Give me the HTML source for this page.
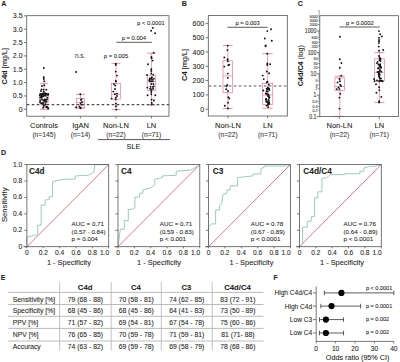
<!DOCTYPE html>
<html><head><meta charset="utf-8"><style>
html,body{margin:0;padding:0;background:#fff;width:400px;height:362px;overflow:hidden}
svg{display:block}
text{font-family:"Liberation Sans", sans-serif}
</style></head><body>
<svg width="400" height="362" viewBox="0 0 400 362">
<text x="1.20" y="6.30" font-size="7" text-anchor="start" font-weight="bold" fill="#222" stroke="#222" stroke-width="0.07" >A</text>
<text x="181.80" y="6.30" font-size="7" text-anchor="start" font-weight="bold" fill="#222" stroke="#222" stroke-width="0.07" >B</text>
<text x="297.80" y="6.30" font-size="7" text-anchor="start" font-weight="bold" fill="#222" stroke="#222" stroke-width="0.07" >C</text>
<text x="1.00" y="154.70" font-size="7" text-anchor="start" font-weight="bold" fill="#222" stroke="#222" stroke-width="0.07" >D</text>
<text x="0.80" y="280.30" font-size="7" text-anchor="start" font-weight="bold" fill="#222" stroke="#222" stroke-width="0.07" >E</text>
<text x="273.50" y="280.30" font-size="7" text-anchor="start" font-weight="bold" fill="#222" stroke="#222" stroke-width="0.07" >F</text>
<line x1="24.00" y1="109.30" x2="26.70" y2="109.30" stroke="#555" stroke-width="0.8" />
<text x="22.60" y="111.80" font-size="7" text-anchor="end" font-weight="normal" fill="#222" stroke="#222" stroke-width="0.07" >0</text>
<line x1="24.00" y1="95.95" x2="26.70" y2="95.95" stroke="#555" stroke-width="0.8" />
<text x="22.60" y="98.45" font-size="7" text-anchor="end" font-weight="normal" fill="#222" stroke="#222" stroke-width="0.07" >0.5</text>
<line x1="24.00" y1="82.60" x2="26.70" y2="82.60" stroke="#555" stroke-width="0.8" />
<text x="22.60" y="85.10" font-size="7" text-anchor="end" font-weight="normal" fill="#222" stroke="#222" stroke-width="0.07" >1.0</text>
<line x1="24.00" y1="69.25" x2="26.70" y2="69.25" stroke="#555" stroke-width="0.8" />
<text x="22.60" y="71.75" font-size="7" text-anchor="end" font-weight="normal" fill="#222" stroke="#222" stroke-width="0.07" >1.5</text>
<line x1="24.00" y1="55.90" x2="26.70" y2="55.90" stroke="#555" stroke-width="0.8" />
<text x="22.60" y="58.40" font-size="7" text-anchor="end" font-weight="normal" fill="#222" stroke="#222" stroke-width="0.07" >2.0</text>
<line x1="24.00" y1="42.55" x2="26.70" y2="42.55" stroke="#555" stroke-width="0.8" />
<text x="22.60" y="45.05" font-size="7" text-anchor="end" font-weight="normal" fill="#222" stroke="#222" stroke-width="0.07" >2.5</text>
<line x1="24.00" y1="29.20" x2="26.70" y2="29.20" stroke="#555" stroke-width="0.8" />
<text x="22.60" y="31.70" font-size="7" text-anchor="end" font-weight="normal" fill="#222" stroke="#222" stroke-width="0.07" >3.0</text>
<line x1="24.00" y1="15.85" x2="26.70" y2="15.85" stroke="#555" stroke-width="0.8" />
<text x="22.60" y="18.35" font-size="7" text-anchor="end" font-weight="normal" fill="#222" stroke="#222" stroke-width="0.07" >3.5</text>
<line x1="44.00" y1="116.20" x2="44.00" y2="118.40" stroke="#555" stroke-width="0.8" />
<line x1="80.40" y1="116.20" x2="80.40" y2="118.40" stroke="#555" stroke-width="0.8" />
<line x1="116.00" y1="116.20" x2="116.00" y2="118.40" stroke="#555" stroke-width="0.8" />
<line x1="151.50" y1="116.20" x2="151.50" y2="118.40" stroke="#555" stroke-width="0.8" />
<text x="44.00" y="128.20" font-size="7.5" text-anchor="middle" font-weight="normal" fill="#222" stroke="#222" stroke-width="0.07" >Controls</text>
<text x="44.00" y="136.60" font-size="6.7" text-anchor="middle" font-weight="normal" fill="#333" stroke="#333" stroke-width="0.07" >(n=145)</text>
<text x="80.60" y="128.20" font-size="7.5" text-anchor="middle" font-weight="normal" fill="#222" stroke="#222" stroke-width="0.07" >IgAN</text>
<text x="80.60" y="136.60" font-size="6.7" text-anchor="middle" font-weight="normal" fill="#333" stroke="#333" stroke-width="0.07" >(n=14)</text>
<text x="116.00" y="128.20" font-size="7.5" text-anchor="middle" font-weight="normal" fill="#222" stroke="#222" stroke-width="0.07" >Non-LN</text>
<text x="116.00" y="136.60" font-size="6.7" text-anchor="middle" font-weight="normal" fill="#333" stroke="#333" stroke-width="0.07" >(n=22)</text>
<text x="151.50" y="128.20" font-size="7.5" text-anchor="middle" font-weight="normal" fill="#222" stroke="#222" stroke-width="0.07" >LN</text>
<text x="151.50" y="136.60" font-size="6.7" text-anchor="middle" font-weight="normal" fill="#333" stroke="#333" stroke-width="0.07" >(n=71)</text>
<line x1="98.00" y1="139.60" x2="170.00" y2="139.60" stroke="#444" stroke-width="0.9" />
<text x="133.50" y="149.40" font-size="7.4" text-anchor="middle" font-weight="normal" fill="#222" stroke="#222" stroke-width="0.07" >SLE</text>
<text transform="translate(6.5,66.1) rotate(-90)" font-size="7.4" text-anchor="middle" fill="#222" stroke="#222" stroke-width="0.07"><tspan font-weight="bold">C4d</tspan> [mg/L]</text>
<text x="80.20" y="58.40" font-size="6.6" text-anchor="middle" font-weight="normal" fill="#444" stroke="#444" stroke-width="0.07" >n.s.</text>
<text x="116.00" y="58.30" font-size="5.8" text-anchor="middle" font-weight="normal" fill="#222" stroke="#222" stroke-width="0.07" >p = 0.005</text>
<line x1="116.30" y1="42.30" x2="151.80" y2="42.30" stroke="#333" stroke-width="0.8" />
<text x="133.90" y="40.30" font-size="5.8" text-anchor="middle" font-weight="normal" fill="#222" stroke="#222" stroke-width="0.07" >p = 0.004</text>
<text x="150.90" y="25.40" font-size="5.8" text-anchor="middle" font-weight="normal" fill="#222" stroke="#222" stroke-width="0.07" >p &lt; 0.0001</text>
<rect x="39.80" y="94.60" width="8.40" height="7.70" fill="none" stroke="#dc5a78" stroke-width="0.55"/>
<line x1="39.80" y1="99.20" x2="48.20" y2="99.20" stroke="#dc5a78" stroke-width="0.55" />
<line x1="44.00" y1="94.60" x2="44.00" y2="83.40" stroke="#dc5a78" stroke-width="0.55" />
<line x1="44.00" y1="102.30" x2="44.00" y2="109.40" stroke="#dc5a78" stroke-width="0.55" />
<line x1="40.00" y1="83.40" x2="48.00" y2="83.40" stroke="#dc5a78" stroke-width="0.65" />
<line x1="40.00" y1="109.40" x2="48.00" y2="109.40" stroke="#dc5a78" stroke-width="0.65" />
<rect x="76.70" y="98.20" width="7.60" height="9.70" fill="none" stroke="#dc5a78" stroke-width="0.55"/>
<line x1="76.70" y1="102.50" x2="84.30" y2="102.50" stroke="#dc5a78" stroke-width="0.55" />
<line x1="80.50" y1="98.20" x2="80.50" y2="94.30" stroke="#dc5a78" stroke-width="0.55" />
<line x1="80.50" y1="107.90" x2="80.50" y2="108.20" stroke="#dc5a78" stroke-width="0.55" />
<line x1="76.00" y1="94.30" x2="85.00" y2="94.30" stroke="#dc5a78" stroke-width="0.65" />
<line x1="76.00" y1="108.20" x2="85.00" y2="108.20" stroke="#dc5a78" stroke-width="0.65" />
<rect x="111.55" y="83.60" width="8.90" height="15.50" fill="none" stroke="#dc5a78" stroke-width="0.55"/>
<line x1="111.55" y1="94.30" x2="120.45" y2="94.30" stroke="#dc5a78" stroke-width="0.55" />
<line x1="116.00" y1="83.60" x2="116.00" y2="63.60" stroke="#dc5a78" stroke-width="0.55" />
<line x1="116.00" y1="99.10" x2="116.00" y2="109.60" stroke="#dc5a78" stroke-width="0.55" />
<line x1="111.60" y1="63.60" x2="120.40" y2="63.60" stroke="#dc5a78" stroke-width="0.65" />
<line x1="111.60" y1="109.60" x2="120.40" y2="109.60" stroke="#dc5a78" stroke-width="0.65" />
<rect x="147.20" y="75.10" width="8.60" height="15.20" fill="none" stroke="#dc5a78" stroke-width="0.55"/>
<line x1="147.20" y1="81.30" x2="155.80" y2="81.30" stroke="#dc5a78" stroke-width="0.55" />
<line x1="151.50" y1="75.10" x2="151.50" y2="53.20" stroke="#dc5a78" stroke-width="0.55" />
<line x1="151.50" y1="90.30" x2="151.50" y2="104.90" stroke="#dc5a78" stroke-width="0.55" />
<line x1="147.10" y1="53.20" x2="155.90" y2="53.20" stroke="#dc5a78" stroke-width="0.65" />
<line x1="147.10" y1="104.90" x2="155.90" y2="104.90" stroke="#dc5a78" stroke-width="0.65" />
<circle cx="43.80" cy="68.00" r="0.95" fill="#111"/>
<circle cx="43.80" cy="77.30" r="0.95" fill="#111"/>
<circle cx="43.80" cy="79.00" r="0.95" fill="#111"/>
<circle cx="44.30" cy="81.30" r="0.95" fill="#111"/>
<circle cx="42.00" cy="86.00" r="0.95" fill="#111"/>
<circle cx="44.30" cy="85.30" r="0.95" fill="#111"/>
<circle cx="41.00" cy="91.00" r="0.95" fill="#111"/>
<circle cx="43.60" cy="89.60" r="0.95" fill="#111"/>
<circle cx="46.30" cy="89.80" r="0.95" fill="#111"/>
<circle cx="44.30" cy="93.60" r="0.95" fill="#111"/>
<circle cx="47.90" cy="94.90" r="0.95" fill="#111"/>
<circle cx="41.00" cy="95.90" r="0.95" fill="#111"/>
<circle cx="44.51" cy="99.55" r="0.95" fill="#111"/>
<circle cx="43.70" cy="105.87" r="0.95" fill="#111"/>
<circle cx="44.75" cy="100.18" r="0.95" fill="#111"/>
<circle cx="44.10" cy="95.74" r="0.95" fill="#111"/>
<circle cx="46.52" cy="101.47" r="0.95" fill="#111"/>
<circle cx="42.31" cy="93.81" r="0.95" fill="#111"/>
<circle cx="46.66" cy="93.72" r="0.95" fill="#111"/>
<circle cx="40.06" cy="102.19" r="0.95" fill="#111"/>
<circle cx="48.00" cy="107.74" r="0.95" fill="#111"/>
<circle cx="44.99" cy="101.73" r="0.95" fill="#111"/>
<circle cx="39.83" cy="95.22" r="0.95" fill="#111"/>
<circle cx="40.21" cy="100.40" r="0.95" fill="#111"/>
<circle cx="41.78" cy="95.84" r="0.95" fill="#111"/>
<circle cx="43.69" cy="91.72" r="0.95" fill="#111"/>
<circle cx="46.94" cy="99.41" r="0.95" fill="#111"/>
<circle cx="45.21" cy="100.30" r="0.95" fill="#111"/>
<circle cx="45.40" cy="100.09" r="0.95" fill="#111"/>
<circle cx="42.09" cy="99.61" r="0.95" fill="#111"/>
<circle cx="48.26" cy="108.86" r="0.95" fill="#111"/>
<circle cx="45.79" cy="104.22" r="0.95" fill="#111"/>
<circle cx="41.68" cy="97.81" r="0.95" fill="#111"/>
<circle cx="40.30" cy="97.43" r="0.95" fill="#111"/>
<circle cx="43.14" cy="103.12" r="0.95" fill="#111"/>
<circle cx="43.02" cy="104.33" r="0.95" fill="#111"/>
<circle cx="46.99" cy="106.80" r="0.95" fill="#111"/>
<circle cx="41.50" cy="89.37" r="0.95" fill="#111"/>
<circle cx="43.74" cy="105.55" r="0.95" fill="#111"/>
<circle cx="43.12" cy="107.65" r="0.95" fill="#111"/>
<circle cx="45.11" cy="93.24" r="0.95" fill="#111"/>
<circle cx="42.02" cy="103.29" r="0.95" fill="#111"/>
<circle cx="42.56" cy="93.63" r="0.95" fill="#111"/>
<circle cx="46.22" cy="107.00" r="0.95" fill="#111"/>
<circle cx="41.82" cy="94.39" r="0.95" fill="#111"/>
<circle cx="40.22" cy="93.99" r="0.95" fill="#111"/>
<circle cx="41.23" cy="103.55" r="0.95" fill="#111"/>
<circle cx="43.55" cy="100.73" r="0.95" fill="#111"/>
<circle cx="45.99" cy="95.85" r="0.95" fill="#111"/>
<circle cx="45.24" cy="94.68" r="0.95" fill="#111"/>
<circle cx="43.32" cy="94.35" r="0.95" fill="#111"/>
<circle cx="42.02" cy="96.24" r="0.95" fill="#111"/>
<circle cx="46.61" cy="107.25" r="0.95" fill="#111"/>
<circle cx="47.31" cy="97.65" r="0.95" fill="#111"/>
<circle cx="43.09" cy="96.20" r="0.95" fill="#111"/>
<circle cx="45.22" cy="104.46" r="0.95" fill="#111"/>
<circle cx="48.21" cy="93.97" r="0.95" fill="#111"/>
<circle cx="41.92" cy="96.24" r="0.95" fill="#111"/>
<circle cx="76.20" cy="72.00" r="0.95" fill="#111"/>
<circle cx="80.30" cy="94.30" r="0.95" fill="#111"/>
<circle cx="81.50" cy="99.10" r="0.95" fill="#111"/>
<circle cx="81.00" cy="100.00" r="0.95" fill="#111"/>
<circle cx="80.60" cy="103.10" r="0.95" fill="#111"/>
<circle cx="81.20" cy="104.60" r="0.95" fill="#111"/>
<circle cx="76.10" cy="107.30" r="0.95" fill="#111"/>
<circle cx="80.60" cy="107.60" r="0.95" fill="#111"/>
<circle cx="82.50" cy="104.60" r="0.95" fill="#111"/>
<circle cx="79.50" cy="106.50" r="0.95" fill="#111"/>
<circle cx="82.00" cy="102.00" r="0.95" fill="#111"/>
<circle cx="80.50" cy="108.30" r="0.95" fill="#111"/>
<circle cx="115.80" cy="63.60" r="0.95" fill="#111"/>
<circle cx="115.80" cy="65.00" r="0.95" fill="#111"/>
<circle cx="115.80" cy="71.60" r="0.95" fill="#111"/>
<circle cx="116.90" cy="75.60" r="0.95" fill="#111"/>
<circle cx="115.90" cy="81.60" r="0.95" fill="#111"/>
<circle cx="115.80" cy="81.00" r="0.95" fill="#111"/>
<circle cx="114.00" cy="84.30" r="0.95" fill="#111"/>
<circle cx="115.30" cy="85.60" r="0.95" fill="#111"/>
<circle cx="113.30" cy="91.60" r="0.95" fill="#111"/>
<circle cx="114.90" cy="94.30" r="0.95" fill="#111"/>
<circle cx="116.90" cy="93.60" r="0.95" fill="#111"/>
<circle cx="115.90" cy="97.60" r="0.95" fill="#111"/>
<circle cx="111.60" cy="98.60" r="0.95" fill="#111"/>
<circle cx="115.60" cy="99.20" r="0.95" fill="#111"/>
<circle cx="115.90" cy="103.60" r="0.95" fill="#111"/>
<circle cx="116.00" cy="106.30" r="0.95" fill="#111"/>
<circle cx="116.30" cy="109.60" r="0.95" fill="#111"/>
<circle cx="115.00" cy="89.00" r="0.95" fill="#111"/>
<circle cx="117.00" cy="96.00" r="0.95" fill="#111"/>
<circle cx="152.80" cy="27.90" r="0.95" fill="#111"/>
<circle cx="151.10" cy="30.70" r="0.95" fill="#111"/>
<circle cx="155.10" cy="33.20" r="0.95" fill="#111"/>
<circle cx="153.60" cy="52.80" r="0.95" fill="#111"/>
<circle cx="151.40" cy="57.00" r="0.95" fill="#111"/>
<circle cx="151.60" cy="58.30" r="0.95" fill="#111"/>
<circle cx="152.60" cy="60.60" r="0.95" fill="#111"/>
<circle cx="148.00" cy="64.20" r="0.95" fill="#111"/>
<circle cx="151.30" cy="69.20" r="0.95" fill="#111"/>
<circle cx="151.30" cy="71.00" r="0.95" fill="#111"/>
<circle cx="151.30" cy="73.50" r="0.95" fill="#111"/>
<circle cx="147.00" cy="75.00" r="0.95" fill="#111"/>
<circle cx="153.30" cy="74.60" r="0.95" fill="#111"/>
<circle cx="151.30" cy="78.00" r="0.95" fill="#111"/>
<circle cx="150.00" cy="81.60" r="0.95" fill="#111"/>
<circle cx="152.90" cy="81.30" r="0.95" fill="#111"/>
<circle cx="151.30" cy="84.00" r="0.95" fill="#111"/>
<circle cx="147.30" cy="87.60" r="0.95" fill="#111"/>
<circle cx="152.90" cy="86.90" r="0.95" fill="#111"/>
<circle cx="150.00" cy="88.60" r="0.95" fill="#111"/>
<circle cx="151.30" cy="89.90" r="0.95" fill="#111"/>
<circle cx="151.30" cy="92.00" r="0.95" fill="#111"/>
<circle cx="151.30" cy="94.30" r="0.95" fill="#111"/>
<circle cx="147.60" cy="95.30" r="0.95" fill="#111"/>
<circle cx="155.30" cy="95.30" r="0.95" fill="#111"/>
<circle cx="151.60" cy="99.60" r="0.95" fill="#111"/>
<circle cx="153.90" cy="100.50" r="0.95" fill="#111"/>
<circle cx="151.80" cy="103.00" r="0.95" fill="#111"/>
<circle cx="151.50" cy="104.60" r="0.95" fill="#111"/>
<circle cx="150.61" cy="86.82" r="0.95" fill="#111"/>
<circle cx="149.28" cy="80.15" r="0.95" fill="#111"/>
<circle cx="151.93" cy="77.26" r="0.95" fill="#111"/>
<circle cx="152.03" cy="79.40" r="0.95" fill="#111"/>
<circle cx="151.26" cy="81.20" r="0.95" fill="#111"/>
<circle cx="151.42" cy="89.43" r="0.95" fill="#111"/>
<circle cx="153.41" cy="84.04" r="0.95" fill="#111"/>
<circle cx="149.70" cy="78.56" r="0.95" fill="#111"/>
<circle cx="153.15" cy="88.72" r="0.95" fill="#111"/>
<circle cx="149.89" cy="79.49" r="0.95" fill="#111"/>
<circle cx="153.79" cy="86.35" r="0.95" fill="#111"/>
<circle cx="153.84" cy="78.75" r="0.95" fill="#111"/>
<line x1="26.70" y1="104.60" x2="169.00" y2="104.60" stroke="#4a4a4a" stroke-width="1.1" stroke-dasharray="2.6,2.4"/>
<rect x="26.7" y="15.7" width="142.3" height="100.5" fill="none" stroke="#555" stroke-width="0.8"/>
<line x1="205.60" y1="109.20" x2="208.30" y2="109.20" stroke="#555" stroke-width="0.8" />
<text x="204.20" y="111.70" font-size="7" text-anchor="end" font-weight="normal" fill="#222" stroke="#222" stroke-width="0.07" >0</text>
<line x1="205.60" y1="94.90" x2="208.30" y2="94.90" stroke="#555" stroke-width="0.8" />
<text x="204.20" y="97.40" font-size="7" text-anchor="end" font-weight="normal" fill="#222" stroke="#222" stroke-width="0.07" >100</text>
<line x1="205.60" y1="80.60" x2="208.30" y2="80.60" stroke="#555" stroke-width="0.8" />
<text x="204.20" y="83.10" font-size="7" text-anchor="end" font-weight="normal" fill="#222" stroke="#222" stroke-width="0.07" >200</text>
<line x1="205.60" y1="66.30" x2="208.30" y2="66.30" stroke="#555" stroke-width="0.8" />
<text x="204.20" y="68.80" font-size="7" text-anchor="end" font-weight="normal" fill="#222" stroke="#222" stroke-width="0.07" >300</text>
<line x1="205.60" y1="52.00" x2="208.30" y2="52.00" stroke="#555" stroke-width="0.8" />
<text x="204.20" y="54.50" font-size="7" text-anchor="end" font-weight="normal" fill="#222" stroke="#222" stroke-width="0.07" >400</text>
<line x1="205.60" y1="37.70" x2="208.30" y2="37.70" stroke="#555" stroke-width="0.8" />
<text x="204.20" y="40.20" font-size="7" text-anchor="end" font-weight="normal" fill="#222" stroke="#222" stroke-width="0.07" >500</text>
<line x1="205.60" y1="23.40" x2="208.30" y2="23.40" stroke="#555" stroke-width="0.8" />
<text x="204.20" y="25.90" font-size="7" text-anchor="end" font-weight="normal" fill="#222" stroke="#222" stroke-width="0.07" >600</text>
<line x1="228.00" y1="116.00" x2="228.00" y2="118.20" stroke="#555" stroke-width="0.8" />
<line x1="267.60" y1="116.00" x2="267.60" y2="118.20" stroke="#555" stroke-width="0.8" />
<text x="228.00" y="128.20" font-size="7.5" text-anchor="middle" font-weight="normal" fill="#222" stroke="#222" stroke-width="0.07" >Non-LN</text>
<text x="228.00" y="136.60" font-size="6.7" text-anchor="middle" font-weight="normal" fill="#333" stroke="#333" stroke-width="0.07" >(n=22)</text>
<text x="267.80" y="128.20" font-size="7.5" text-anchor="middle" font-weight="normal" fill="#222" stroke="#222" stroke-width="0.07" >LN</text>
<text x="267.80" y="136.60" font-size="6.7" text-anchor="middle" font-weight="normal" fill="#333" stroke="#333" stroke-width="0.07" >(n=71)</text>
<text transform="translate(186.7,64.9) rotate(-90)" font-size="7.4" text-anchor="middle" fill="#222" stroke="#222" stroke-width="0.07"><tspan font-weight="bold">C4</tspan> [mg/L]</text>
<line x1="227.40" y1="27.30" x2="267.60" y2="27.30" stroke="#333" stroke-width="0.8" />
<text x="247.60" y="25.30" font-size="5.8" text-anchor="middle" font-weight="normal" fill="#222" stroke="#222" stroke-width="0.07" >p = 0.003</text>
<rect x="223.00" y="60.80" width="9.60" height="32.00" fill="none" stroke="#dc5a78" stroke-width="0.55"/>
<line x1="223.00" y1="75.90" x2="232.60" y2="75.90" stroke="#dc5a78" stroke-width="0.55" />
<line x1="227.80" y1="60.80" x2="227.80" y2="45.60" stroke="#dc5a78" stroke-width="0.55" />
<line x1="227.80" y1="92.80" x2="227.80" y2="108.50" stroke="#dc5a78" stroke-width="0.55" />
<line x1="223.00" y1="45.60" x2="232.60" y2="45.60" stroke="#dc5a78" stroke-width="0.65" />
<line x1="223.00" y1="108.50" x2="232.60" y2="108.50" stroke="#dc5a78" stroke-width="0.65" />
<rect x="262.40" y="83.30" width="10.40" height="21.10" fill="none" stroke="#dc5a78" stroke-width="0.55"/>
<line x1="262.40" y1="95.00" x2="272.80" y2="95.00" stroke="#dc5a78" stroke-width="0.55" />
<line x1="267.60" y1="83.30" x2="267.60" y2="53.70" stroke="#dc5a78" stroke-width="0.55" />
<line x1="267.60" y1="104.40" x2="267.60" y2="108.20" stroke="#dc5a78" stroke-width="0.55" />
<line x1="262.60" y1="53.70" x2="272.60" y2="53.70" stroke="#dc5a78" stroke-width="0.65" />
<line x1="262.60" y1="108.20" x2="272.60" y2="108.20" stroke="#dc5a78" stroke-width="0.65" />
<circle cx="227.60" cy="45.60" r="0.95" fill="#111"/>
<circle cx="227.40" cy="50.10" r="0.95" fill="#111"/>
<circle cx="224.30" cy="57.40" r="0.95" fill="#111"/>
<circle cx="227.60" cy="59.20" r="0.95" fill="#111"/>
<circle cx="227.80" cy="61.30" r="0.95" fill="#111"/>
<circle cx="228.30" cy="65.30" r="0.95" fill="#111"/>
<circle cx="229.30" cy="64.60" r="0.95" fill="#111"/>
<circle cx="224.30" cy="66.60" r="0.95" fill="#111"/>
<circle cx="227.80" cy="73.60" r="0.95" fill="#111"/>
<circle cx="227.80" cy="77.90" r="0.95" fill="#111"/>
<circle cx="227.30" cy="84.90" r="0.95" fill="#111"/>
<circle cx="226.40" cy="86.20" r="0.95" fill="#111"/>
<circle cx="226.20" cy="89.30" r="0.95" fill="#111"/>
<circle cx="228.00" cy="91.00" r="0.95" fill="#111"/>
<circle cx="228.40" cy="97.30" r="0.95" fill="#111"/>
<circle cx="229.30" cy="98.60" r="0.95" fill="#111"/>
<circle cx="228.00" cy="102.80" r="0.95" fill="#111"/>
<circle cx="224.80" cy="105.70" r="0.95" fill="#111"/>
<circle cx="228.00" cy="108.50" r="0.95" fill="#111"/>
<circle cx="271.00" cy="29.20" r="0.95" fill="#111"/>
<circle cx="267.30" cy="31.10" r="0.95" fill="#111"/>
<circle cx="264.80" cy="38.50" r="0.95" fill="#111"/>
<circle cx="271.80" cy="40.80" r="0.95" fill="#111"/>
<circle cx="265.60" cy="45.50" r="0.95" fill="#111"/>
<circle cx="265.60" cy="46.20" r="0.95" fill="#111"/>
<circle cx="267.30" cy="53.70" r="0.95" fill="#111"/>
<circle cx="267.30" cy="63.50" r="0.95" fill="#111"/>
<circle cx="267.30" cy="65.00" r="0.95" fill="#111"/>
<circle cx="270.10" cy="64.30" r="0.95" fill="#111"/>
<circle cx="266.80" cy="71.50" r="0.95" fill="#111"/>
<circle cx="269.10" cy="73.20" r="0.95" fill="#111"/>
<circle cx="262.70" cy="75.60" r="0.95" fill="#111"/>
<circle cx="263.70" cy="79.10" r="0.95" fill="#111"/>
<circle cx="267.50" cy="81.60" r="0.95" fill="#111"/>
<circle cx="266.80" cy="82.40" r="0.95" fill="#111"/>
<circle cx="268.70" cy="84.70" r="0.95" fill="#111"/>
<circle cx="267.90" cy="87.40" r="0.95" fill="#111"/>
<circle cx="267.10" cy="89.30" r="0.95" fill="#111"/>
<circle cx="263.30" cy="90.50" r="0.95" fill="#111"/>
<circle cx="266.80" cy="93.60" r="0.95" fill="#111"/>
<circle cx="268.30" cy="96.30" r="0.95" fill="#111"/>
<circle cx="267.99" cy="105.05" r="0.95" fill="#111"/>
<circle cx="266.09" cy="99.06" r="0.95" fill="#111"/>
<circle cx="269.36" cy="89.96" r="0.95" fill="#111"/>
<circle cx="268.38" cy="95.83" r="0.95" fill="#111"/>
<circle cx="268.83" cy="96.20" r="0.95" fill="#111"/>
<circle cx="266.82" cy="101.54" r="0.95" fill="#111"/>
<circle cx="268.44" cy="94.43" r="0.95" fill="#111"/>
<circle cx="266.57" cy="91.28" r="0.95" fill="#111"/>
<circle cx="268.94" cy="101.05" r="0.95" fill="#111"/>
<circle cx="266.76" cy="101.77" r="0.95" fill="#111"/>
<circle cx="266.48" cy="105.61" r="0.95" fill="#111"/>
<circle cx="266.72" cy="88.59" r="0.95" fill="#111"/>
<circle cx="265.93" cy="99.44" r="0.95" fill="#111"/>
<circle cx="267.10" cy="94.45" r="0.95" fill="#111"/>
<circle cx="266.20" cy="101.22" r="0.95" fill="#111"/>
<circle cx="269.09" cy="98.11" r="0.95" fill="#111"/>
<circle cx="268.20" cy="107.09" r="0.95" fill="#111"/>
<circle cx="267.92" cy="102.73" r="0.95" fill="#111"/>
<circle cx="265.83" cy="93.54" r="0.95" fill="#111"/>
<circle cx="269.16" cy="88.69" r="0.95" fill="#111"/>
<circle cx="269.36" cy="102.85" r="0.95" fill="#111"/>
<circle cx="268.12" cy="88.93" r="0.95" fill="#111"/>
<circle cx="268.48" cy="99.98" r="0.95" fill="#111"/>
<circle cx="269.50" cy="97.36" r="0.95" fill="#111"/>
<circle cx="267.78" cy="91.52" r="0.95" fill="#111"/>
<circle cx="269.12" cy="103.28" r="0.95" fill="#111"/>
<circle cx="268.37" cy="103.28" r="0.95" fill="#111"/>
<circle cx="269.18" cy="103.92" r="0.95" fill="#111"/>
<line x1="208.30" y1="86.00" x2="287.30" y2="86.00" stroke="#555" stroke-width="1.1" stroke-dasharray="2.6,2.4" stroke-dashoffset="-0.5"/>
<rect x="208.3" y="15.5" width="79.0" height="100.5" fill="none" stroke="#555" stroke-width="0.8"/>
<line x1="318.30" y1="103.72" x2="319.80" y2="103.72" stroke="#555" stroke-width="0.5" />
<line x1="318.30" y1="99.95" x2="319.80" y2="99.95" stroke="#555" stroke-width="0.5" />
<line x1="318.30" y1="98.51" x2="319.80" y2="98.51" stroke="#555" stroke-width="0.5" />
<line x1="318.30" y1="97.27" x2="319.80" y2="97.27" stroke="#555" stroke-width="0.5" />
<line x1="318.30" y1="96.18" x2="319.80" y2="96.18" stroke="#555" stroke-width="0.5" />
<line x1="318.30" y1="82.32" x2="319.80" y2="82.32" stroke="#555" stroke-width="0.5" />
<line x1="318.30" y1="78.55" x2="319.80" y2="78.55" stroke="#555" stroke-width="0.5" />
<line x1="318.30" y1="77.11" x2="319.80" y2="77.11" stroke="#555" stroke-width="0.5" />
<line x1="318.30" y1="75.87" x2="319.80" y2="75.87" stroke="#555" stroke-width="0.5" />
<line x1="318.30" y1="74.78" x2="319.80" y2="74.78" stroke="#555" stroke-width="0.5" />
<line x1="318.30" y1="60.92" x2="319.80" y2="60.92" stroke="#555" stroke-width="0.5" />
<line x1="318.30" y1="57.15" x2="319.80" y2="57.15" stroke="#555" stroke-width="0.5" />
<line x1="318.30" y1="55.71" x2="319.80" y2="55.71" stroke="#555" stroke-width="0.5" />
<line x1="318.30" y1="54.47" x2="319.80" y2="54.47" stroke="#555" stroke-width="0.5" />
<line x1="318.30" y1="53.38" x2="319.80" y2="53.38" stroke="#555" stroke-width="0.5" />
<line x1="318.30" y1="39.52" x2="319.80" y2="39.52" stroke="#555" stroke-width="0.5" />
<line x1="318.30" y1="35.75" x2="319.80" y2="35.75" stroke="#555" stroke-width="0.5" />
<line x1="318.30" y1="34.31" x2="319.80" y2="34.31" stroke="#555" stroke-width="0.5" />
<line x1="318.30" y1="33.07" x2="319.80" y2="33.07" stroke="#555" stroke-width="0.5" />
<line x1="318.30" y1="31.98" x2="319.80" y2="31.98" stroke="#555" stroke-width="0.5" />
<line x1="318.30" y1="18.12" x2="319.80" y2="18.12" stroke="#555" stroke-width="0.5" />
<line x1="318.30" y1="14.35" x2="319.80" y2="14.35" stroke="#555" stroke-width="0.5" />
<line x1="318.30" y1="12.91" x2="319.80" y2="12.91" stroke="#555" stroke-width="0.5" />
<line x1="318.30" y1="11.67" x2="319.80" y2="11.67" stroke="#555" stroke-width="0.5" />
<line x1="318.30" y1="10.58" x2="319.80" y2="10.58" stroke="#555" stroke-width="0.5" />
<line x1="316.80" y1="116.60" x2="319.80" y2="116.60" stroke="#555" stroke-width="0.8" />
<text x="316.30" y="118.80" font-size="6.3" text-anchor="end" font-weight="normal" fill="#222" stroke="#222" stroke-width="0.07" textLength="7.14" lengthAdjust="spacingAndGlyphs">0.1</text>
<line x1="317.80" y1="110.16" x2="319.80" y2="110.16" stroke="#555" stroke-width="0.6" />
<text x="317.40" y="111.76" font-size="4.4" text-anchor="end" font-weight="normal" fill="#222" stroke="#222" stroke-width="0.07" textLength="5.01" lengthAdjust="spacingAndGlyphs">0.2</text>
<line x1="317.80" y1="106.39" x2="319.80" y2="106.39" stroke="#555" stroke-width="0.6" />
<text x="317.40" y="107.99" font-size="4.4" text-anchor="end" font-weight="normal" fill="#222" stroke="#222" stroke-width="0.07" textLength="5.01" lengthAdjust="spacingAndGlyphs">0.3</text>
<line x1="317.80" y1="101.64" x2="319.80" y2="101.64" stroke="#555" stroke-width="0.6" />
<text x="317.40" y="103.24" font-size="4.4" text-anchor="end" font-weight="normal" fill="#222" stroke="#222" stroke-width="0.07" textLength="5.01" lengthAdjust="spacingAndGlyphs">0.5</text>
<line x1="316.80" y1="95.20" x2="319.80" y2="95.20" stroke="#555" stroke-width="0.8" />
<text x="316.30" y="97.40" font-size="6.3" text-anchor="end" font-weight="normal" fill="#222" stroke="#222" stroke-width="0.07" textLength="2.87" lengthAdjust="spacingAndGlyphs">1</text>
<line x1="317.80" y1="88.76" x2="319.80" y2="88.76" stroke="#555" stroke-width="0.6" />
<text x="317.40" y="90.36" font-size="4.4" text-anchor="end" font-weight="normal" fill="#222" stroke="#222" stroke-width="0.07" textLength="2.01" lengthAdjust="spacingAndGlyphs">2</text>
<line x1="317.80" y1="84.99" x2="319.80" y2="84.99" stroke="#555" stroke-width="0.6" />
<text x="317.40" y="86.59" font-size="4.4" text-anchor="end" font-weight="normal" fill="#222" stroke="#222" stroke-width="0.07" textLength="2.01" lengthAdjust="spacingAndGlyphs">3</text>
<line x1="317.80" y1="80.24" x2="319.80" y2="80.24" stroke="#555" stroke-width="0.6" />
<text x="317.40" y="81.84" font-size="4.4" text-anchor="end" font-weight="normal" fill="#222" stroke="#222" stroke-width="0.07" textLength="2.01" lengthAdjust="spacingAndGlyphs">5</text>
<line x1="316.80" y1="73.80" x2="319.80" y2="73.80" stroke="#555" stroke-width="0.8" />
<text x="316.30" y="76.00" font-size="6.3" text-anchor="end" font-weight="normal" fill="#222" stroke="#222" stroke-width="0.07" textLength="5.74" lengthAdjust="spacingAndGlyphs">10</text>
<line x1="317.80" y1="67.36" x2="319.80" y2="67.36" stroke="#555" stroke-width="0.6" />
<text x="317.40" y="68.96" font-size="4.4" text-anchor="end" font-weight="normal" fill="#222" stroke="#222" stroke-width="0.07" textLength="4.01" lengthAdjust="spacingAndGlyphs">20</text>
<line x1="317.80" y1="63.59" x2="319.80" y2="63.59" stroke="#555" stroke-width="0.6" />
<text x="317.40" y="65.19" font-size="4.4" text-anchor="end" font-weight="normal" fill="#222" stroke="#222" stroke-width="0.07" textLength="4.01" lengthAdjust="spacingAndGlyphs">30</text>
<line x1="317.80" y1="58.84" x2="319.80" y2="58.84" stroke="#555" stroke-width="0.6" />
<text x="317.40" y="60.44" font-size="4.4" text-anchor="end" font-weight="normal" fill="#222" stroke="#222" stroke-width="0.07" textLength="4.01" lengthAdjust="spacingAndGlyphs">50</text>
<line x1="316.80" y1="52.40" x2="319.80" y2="52.40" stroke="#555" stroke-width="0.8" />
<text x="316.30" y="54.60" font-size="6.3" text-anchor="end" font-weight="normal" fill="#222" stroke="#222" stroke-width="0.07" textLength="8.62" lengthAdjust="spacingAndGlyphs">100</text>
<line x1="317.80" y1="45.96" x2="319.80" y2="45.96" stroke="#555" stroke-width="0.6" />
<text x="317.40" y="47.56" font-size="4.4" text-anchor="end" font-weight="normal" fill="#222" stroke="#222" stroke-width="0.07" textLength="6.02" lengthAdjust="spacingAndGlyphs">200</text>
<line x1="317.80" y1="42.19" x2="319.80" y2="42.19" stroke="#555" stroke-width="0.6" />
<text x="317.40" y="43.79" font-size="4.4" text-anchor="end" font-weight="normal" fill="#222" stroke="#222" stroke-width="0.07" textLength="6.02" lengthAdjust="spacingAndGlyphs">300</text>
<line x1="317.80" y1="37.44" x2="319.80" y2="37.44" stroke="#555" stroke-width="0.6" />
<text x="317.40" y="39.04" font-size="4.4" text-anchor="end" font-weight="normal" fill="#222" stroke="#222" stroke-width="0.07" textLength="6.02" lengthAdjust="spacingAndGlyphs">500</text>
<line x1="316.80" y1="31.00" x2="319.80" y2="31.00" stroke="#555" stroke-width="0.8" />
<text x="316.30" y="33.20" font-size="6.3" text-anchor="end" font-weight="normal" fill="#222" stroke="#222" stroke-width="0.07" textLength="11.49" lengthAdjust="spacingAndGlyphs">1000</text>
<line x1="317.80" y1="24.56" x2="319.80" y2="24.56" stroke="#555" stroke-width="0.6" />
<text x="317.40" y="26.16" font-size="4.4" text-anchor="end" font-weight="normal" fill="#222" stroke="#222" stroke-width="0.07" textLength="8.02" lengthAdjust="spacingAndGlyphs">2000</text>
<line x1="317.80" y1="20.79" x2="319.80" y2="20.79" stroke="#555" stroke-width="0.6" />
<text x="317.40" y="22.39" font-size="4.4" text-anchor="end" font-weight="normal" fill="#222" stroke="#222" stroke-width="0.07" textLength="8.02" lengthAdjust="spacingAndGlyphs">3000</text>
<line x1="317.80" y1="16.04" x2="319.80" y2="16.04" stroke="#555" stroke-width="0.6" />
<text x="317.40" y="17.64" font-size="4.4" text-anchor="end" font-weight="normal" fill="#222" stroke="#222" stroke-width="0.07" textLength="8.02" lengthAdjust="spacingAndGlyphs">5000</text>
<line x1="339.40" y1="116.60" x2="339.40" y2="118.80" stroke="#555" stroke-width="0.8" />
<line x1="379.30" y1="116.60" x2="379.30" y2="118.80" stroke="#555" stroke-width="0.8" />
<text x="339.40" y="128.20" font-size="7.5" text-anchor="middle" font-weight="normal" fill="#222" stroke="#222" stroke-width="0.07" >Non-LN</text>
<text x="339.40" y="136.60" font-size="6.7" text-anchor="middle" font-weight="normal" fill="#333" stroke="#333" stroke-width="0.07" >(n=22)</text>
<text x="379.30" y="128.20" font-size="7.5" text-anchor="middle" font-weight="normal" fill="#222" stroke="#222" stroke-width="0.07" >LN</text>
<text x="379.30" y="136.60" font-size="6.7" text-anchor="middle" font-weight="normal" fill="#333" stroke="#333" stroke-width="0.07" >(n=71)</text>
<text transform="translate(302.9,65.6) rotate(-90)" font-size="7.2" text-anchor="middle" fill="#222" stroke="#222" stroke-width="0.07"><tspan font-weight="bold">C4d/C4</tspan> (log)</text>
<line x1="339.40" y1="27.00" x2="379.80" y2="27.00" stroke="#333" stroke-width="0.8" />
<text x="359.90" y="24.80" font-size="5.9" text-anchor="middle" font-weight="normal" fill="#222" stroke="#222" stroke-width="0.07" >p = 0.0002</text>
<rect x="334.90" y="78.00" width="9.80" height="12.60" fill="none" stroke="#dc5a78" stroke-width="0.55"/>
<line x1="334.90" y1="86.50" x2="344.70" y2="86.50" stroke="#dc5a78" stroke-width="0.55" />
<line x1="339.80" y1="78.00" x2="339.80" y2="76.20" stroke="#dc5a78" stroke-width="0.55" />
<line x1="339.80" y1="90.60" x2="339.80" y2="116.40" stroke="#dc5a78" stroke-width="0.55" />
<line x1="334.80" y1="76.20" x2="344.80" y2="76.20" stroke="#dc5a78" stroke-width="0.65" />
<line x1="334.80" y1="116.40" x2="344.80" y2="116.40" stroke="#dc5a78" stroke-width="0.65" />
<rect x="374.30" y="58.80" width="10.20" height="22.00" fill="none" stroke="#dc5a78" stroke-width="0.55"/>
<line x1="374.30" y1="72.40" x2="384.50" y2="72.40" stroke="#dc5a78" stroke-width="0.55" />
<line x1="379.40" y1="58.80" x2="379.40" y2="52.60" stroke="#dc5a78" stroke-width="0.55" />
<line x1="379.40" y1="80.80" x2="379.40" y2="102.40" stroke="#dc5a78" stroke-width="0.55" />
<line x1="374.30" y1="52.60" x2="384.50" y2="52.60" stroke="#dc5a78" stroke-width="0.65" />
<line x1="374.30" y1="102.40" x2="384.50" y2="102.40" stroke="#dc5a78" stroke-width="0.65" />
<circle cx="339.90" cy="36.80" r="0.95" fill="#111"/>
<circle cx="339.80" cy="59.20" r="0.95" fill="#111"/>
<circle cx="341.50" cy="63.00" r="0.95" fill="#111"/>
<circle cx="339.80" cy="67.70" r="0.95" fill="#111"/>
<circle cx="341.30" cy="75.80" r="0.95" fill="#111"/>
<circle cx="339.50" cy="79.00" r="0.95" fill="#111"/>
<circle cx="337.60" cy="82.40" r="0.95" fill="#111"/>
<circle cx="339.90" cy="81.20" r="0.95" fill="#111"/>
<circle cx="340.30" cy="84.70" r="0.95" fill="#111"/>
<circle cx="336.80" cy="89.10" r="0.95" fill="#111"/>
<circle cx="339.50" cy="89.10" r="0.95" fill="#111"/>
<circle cx="340.30" cy="93.70" r="0.95" fill="#111"/>
<circle cx="339.50" cy="97.60" r="0.95" fill="#111"/>
<circle cx="339.50" cy="108.60" r="0.95" fill="#111"/>
<circle cx="341.00" cy="86.00" r="0.95" fill="#111"/>
<circle cx="338.50" cy="87.50" r="0.95" fill="#111"/>
<circle cx="379.00" cy="31.10" r="0.95" fill="#111"/>
<circle cx="380.10" cy="34.20" r="0.95" fill="#111"/>
<circle cx="381.90" cy="36.40" r="0.95" fill="#111"/>
<circle cx="379.00" cy="37.70" r="0.95" fill="#111"/>
<circle cx="379.00" cy="40.00" r="0.95" fill="#111"/>
<circle cx="379.00" cy="41.50" r="0.95" fill="#111"/>
<circle cx="378.80" cy="43.10" r="0.95" fill="#111"/>
<circle cx="378.80" cy="46.60" r="0.95" fill="#111"/>
<circle cx="379.10" cy="50.80" r="0.95" fill="#111"/>
<circle cx="383.20" cy="50.00" r="0.95" fill="#111"/>
<circle cx="379.00" cy="56.00" r="0.95" fill="#111"/>
<circle cx="379.50" cy="60.00" r="0.95" fill="#111"/>
<circle cx="380.50" cy="61.00" r="0.95" fill="#111"/>
<circle cx="378.50" cy="64.50" r="0.95" fill="#111"/>
<circle cx="379.50" cy="66.00" r="0.95" fill="#111"/>
<circle cx="379.00" cy="68.00" r="0.95" fill="#111"/>
<circle cx="380.00" cy="70.00" r="0.95" fill="#111"/>
<circle cx="377.50" cy="72.00" r="0.95" fill="#111"/>
<circle cx="379.00" cy="73.50" r="0.95" fill="#111"/>
<circle cx="378.80" cy="76.00" r="0.95" fill="#111"/>
<circle cx="379.50" cy="77.00" r="0.95" fill="#111"/>
<circle cx="374.00" cy="79.00" r="0.95" fill="#111"/>
<circle cx="377.00" cy="80.50" r="0.95" fill="#111"/>
<circle cx="380.00" cy="80.70" r="0.95" fill="#111"/>
<circle cx="382.00" cy="81.00" r="0.95" fill="#111"/>
<circle cx="374.50" cy="81.20" r="0.95" fill="#111"/>
<circle cx="379.10" cy="81.20" r="0.95" fill="#111"/>
<circle cx="382.60" cy="81.20" r="0.95" fill="#111"/>
<circle cx="376.00" cy="84.30" r="0.95" fill="#111"/>
<circle cx="379.10" cy="87.30" r="0.95" fill="#111"/>
<circle cx="379.30" cy="90.10" r="0.95" fill="#111"/>
<circle cx="376.40" cy="92.80" r="0.95" fill="#111"/>
<circle cx="381.30" cy="96.90" r="0.95" fill="#111"/>
<circle cx="379.10" cy="101.30" r="0.95" fill="#111"/>
<circle cx="379.20" cy="102.40" r="0.95" fill="#111"/>
<circle cx="380.19" cy="65.44" r="0.95" fill="#111"/>
<circle cx="381.08" cy="78.62" r="0.95" fill="#111"/>
<circle cx="380.69" cy="67.01" r="0.95" fill="#111"/>
<circle cx="379.65" cy="77.72" r="0.95" fill="#111"/>
<circle cx="378.74" cy="72.00" r="0.95" fill="#111"/>
<circle cx="379.82" cy="70.98" r="0.95" fill="#111"/>
<circle cx="379.97" cy="58.92" r="0.95" fill="#111"/>
<circle cx="381.12" cy="80.84" r="0.95" fill="#111"/>
<circle cx="378.76" cy="74.48" r="0.95" fill="#111"/>
<circle cx="379.69" cy="74.64" r="0.95" fill="#111"/>
<circle cx="380.92" cy="67.57" r="0.95" fill="#111"/>
<circle cx="380.50" cy="59.01" r="0.95" fill="#111"/>
<circle cx="379.79" cy="57.71" r="0.95" fill="#111"/>
<circle cx="378.01" cy="68.54" r="0.95" fill="#111"/>
<circle cx="379.29" cy="73.76" r="0.95" fill="#111"/>
<circle cx="381.32" cy="71.75" r="0.95" fill="#111"/>
<circle cx="376.95" cy="63.14" r="0.95" fill="#111"/>
<circle cx="380.16" cy="64.22" r="0.95" fill="#111"/>
<circle cx="377.71" cy="61.86" r="0.95" fill="#111"/>
<circle cx="380.07" cy="78.74" r="0.95" fill="#111"/>
<circle cx="381.18" cy="67.61" r="0.95" fill="#111"/>
<circle cx="380.10" cy="64.85" r="0.95" fill="#111"/>
<rect x="319.8" y="15.7" width="78.80000000000001" height="100.89999999999999" fill="none" stroke="#555" stroke-width="0.8"/>
<line x1="24.30" y1="246.70" x2="26.90" y2="246.70" stroke="#555" stroke-width="0.8" />
<line x1="26.90" y1="246.70" x2="26.90" y2="248.30" stroke="#555" stroke-width="0.8" />
<line x1="24.30" y1="230.28" x2="26.90" y2="230.28" stroke="#555" stroke-width="0.8" />
<line x1="43.26" y1="246.70" x2="43.26" y2="248.30" stroke="#555" stroke-width="0.8" />
<line x1="24.30" y1="213.86" x2="26.90" y2="213.86" stroke="#555" stroke-width="0.8" />
<line x1="59.62" y1="246.70" x2="59.62" y2="248.30" stroke="#555" stroke-width="0.8" />
<line x1="24.30" y1="197.44" x2="26.90" y2="197.44" stroke="#555" stroke-width="0.8" />
<line x1="75.98" y1="246.70" x2="75.98" y2="248.30" stroke="#555" stroke-width="0.8" />
<line x1="24.30" y1="181.02" x2="26.90" y2="181.02" stroke="#555" stroke-width="0.8" />
<line x1="92.34" y1="246.70" x2="92.34" y2="248.30" stroke="#555" stroke-width="0.8" />
<line x1="24.30" y1="164.60" x2="26.90" y2="164.60" stroke="#555" stroke-width="0.8" />
<line x1="108.70" y1="246.70" x2="108.70" y2="248.30" stroke="#555" stroke-width="0.8" />
<line x1="23.40" y1="246.70" x2="26.90" y2="246.70" stroke="#555" stroke-width="0.8" />
<text x="26.90" y="255.20" font-size="6.6" text-anchor="middle" font-weight="normal" fill="#222" stroke="#222" stroke-width="0.07" >0</text>
<text x="43.26" y="255.20" font-size="6.6" text-anchor="middle" font-weight="normal" fill="#222" stroke="#222" stroke-width="0.07" >0.2</text>
<text x="59.62" y="255.20" font-size="6.6" text-anchor="middle" font-weight="normal" fill="#222" stroke="#222" stroke-width="0.07" >0.4</text>
<text x="75.98" y="255.20" font-size="6.6" text-anchor="middle" font-weight="normal" fill="#222" stroke="#222" stroke-width="0.07" >0.6</text>
<text x="92.34" y="255.20" font-size="6.6" text-anchor="middle" font-weight="normal" fill="#222" stroke="#222" stroke-width="0.07" >0.8</text>
<text x="104.50" y="255.20" font-size="6.6" text-anchor="middle" font-weight="normal" fill="#222" stroke="#222" stroke-width="0.07" >1.0</text>
<text x="22.20" y="248.70" font-size="6.6" text-anchor="end" font-weight="normal" fill="#222" stroke="#222" stroke-width="0.07" >0</text>
<text x="22.20" y="232.28" font-size="6.6" text-anchor="end" font-weight="normal" fill="#222" stroke="#222" stroke-width="0.07" >0.2</text>
<text x="22.20" y="215.86" font-size="6.6" text-anchor="end" font-weight="normal" fill="#222" stroke="#222" stroke-width="0.07" >0.4</text>
<text x="22.20" y="199.44" font-size="6.6" text-anchor="end" font-weight="normal" fill="#222" stroke="#222" stroke-width="0.07" >0.6</text>
<text x="22.20" y="183.02" font-size="6.6" text-anchor="end" font-weight="normal" fill="#222" stroke="#222" stroke-width="0.07" >0.8</text>
<text x="22.20" y="166.60" font-size="6.6" text-anchor="end" font-weight="normal" fill="#222" stroke="#222" stroke-width="0.07" >1.0</text>
<text transform="translate(7.3,204.8) rotate(-90)" font-size="7.7" text-anchor="middle" fill="#222" stroke="#222" stroke-width="0.07">Sensitivity</text>
<text x="68.90" y="264.80" font-size="7.4" text-anchor="middle" font-weight="normal" fill="#222" stroke="#222" stroke-width="0.07" >1 - Specificity</text>
<line x1="26.90" y1="246.70" x2="108.70" y2="164.60" stroke="#cf5769" stroke-width="0.8" />
<polyline points="26.90,246.70 26.90,237.20 37.60,234.60 37.60,225.20 41.20,225.20 41.20,205.10 45.20,205.10 45.20,199.80 49.20,199.80 49.20,196.70 52.60,196.70 52.60,181.60 64.00,179.30 75.30,179.00 75.30,175.90 87.90,175.30 93.80,172.60 94.80,164.70 108.70,164.60" fill="none" stroke="#8ac2b5" stroke-width="0.85" stroke-linejoin="miter"/>
<text x="29.00" y="173.90" font-size="8.3" text-anchor="start" font-weight="bold" fill="#222" stroke="#222" stroke-width="0.07" >C4d</text>
<text x="71.60" y="225.90" font-size="6.25" text-anchor="start" font-weight="normal" fill="#222" stroke="#222" stroke-width="0.07" >AUC = 0.71</text>
<text x="71.60" y="233.50" font-size="6.25" text-anchor="start" font-weight="normal" fill="#222" stroke="#222" stroke-width="0.07" >(0.57 - 0.84)</text>
<text x="71.60" y="241.10" font-size="6.25" text-anchor="start" font-weight="normal" fill="#222" stroke="#222" stroke-width="0.07" >p = 0.004</text>
<rect x="26.9" y="164.6" width="81.8" height="82.1" fill="none" stroke="#555" stroke-width="0.8"/>
<line x1="115.40" y1="246.70" x2="118.00" y2="246.70" stroke="#555" stroke-width="0.8" />
<line x1="118.00" y1="246.70" x2="118.00" y2="248.30" stroke="#555" stroke-width="0.8" />
<line x1="115.40" y1="230.28" x2="118.00" y2="230.28" stroke="#555" stroke-width="0.8" />
<line x1="134.36" y1="246.70" x2="134.36" y2="248.30" stroke="#555" stroke-width="0.8" />
<line x1="115.40" y1="213.86" x2="118.00" y2="213.86" stroke="#555" stroke-width="0.8" />
<line x1="150.72" y1="246.70" x2="150.72" y2="248.30" stroke="#555" stroke-width="0.8" />
<line x1="115.40" y1="197.44" x2="118.00" y2="197.44" stroke="#555" stroke-width="0.8" />
<line x1="167.08" y1="246.70" x2="167.08" y2="248.30" stroke="#555" stroke-width="0.8" />
<line x1="115.40" y1="181.02" x2="118.00" y2="181.02" stroke="#555" stroke-width="0.8" />
<line x1="183.44" y1="246.70" x2="183.44" y2="248.30" stroke="#555" stroke-width="0.8" />
<line x1="115.40" y1="164.60" x2="118.00" y2="164.60" stroke="#555" stroke-width="0.8" />
<line x1="199.80" y1="246.70" x2="199.80" y2="248.30" stroke="#555" stroke-width="0.8" />
<line x1="114.50" y1="246.70" x2="118.00" y2="246.70" stroke="#555" stroke-width="0.8" />
<text x="118.00" y="255.20" font-size="6.6" text-anchor="middle" font-weight="normal" fill="#222" stroke="#222" stroke-width="0.07" >0</text>
<text x="134.36" y="255.20" font-size="6.6" text-anchor="middle" font-weight="normal" fill="#222" stroke="#222" stroke-width="0.07" >0.2</text>
<text x="150.72" y="255.20" font-size="6.6" text-anchor="middle" font-weight="normal" fill="#222" stroke="#222" stroke-width="0.07" >0.4</text>
<text x="167.08" y="255.20" font-size="6.6" text-anchor="middle" font-weight="normal" fill="#222" stroke="#222" stroke-width="0.07" >0.6</text>
<text x="183.44" y="255.20" font-size="6.6" text-anchor="middle" font-weight="normal" fill="#222" stroke="#222" stroke-width="0.07" >0.8</text>
<text x="195.60" y="255.20" font-size="6.6" text-anchor="middle" font-weight="normal" fill="#222" stroke="#222" stroke-width="0.07" >1.0</text>
<text x="159.10" y="264.80" font-size="7.4" text-anchor="middle" font-weight="normal" fill="#222" stroke="#222" stroke-width="0.07" >1 - Specificity</text>
<line x1="118.00" y1="246.70" x2="199.80" y2="164.60" stroke="#cf5769" stroke-width="0.8" />
<polyline points="118.00,246.70 120.30,229.20 124.30,229.20 124.30,220.60 128.30,220.60 128.30,209.50 132.20,209.30 134.90,207.80 134.90,197.10 139.50,197.10 139.50,193.20 142.90,193.20 142.90,189.90 150.80,187.90 154.80,185.00 154.80,179.20 162.30,177.60 162.30,175.90 176.20,175.30 176.20,171.30 190.80,170.00 198.10,166.00 199.80,164.60" fill="none" stroke="#8ac2b5" stroke-width="0.85" stroke-linejoin="miter"/>
<text x="121.00" y="173.90" font-size="8.3" text-anchor="start" font-weight="bold" fill="#222" stroke="#222" stroke-width="0.07" >C4</text>
<text x="159.80" y="225.90" font-size="6.25" text-anchor="start" font-weight="normal" fill="#222" stroke="#222" stroke-width="0.07" >AUC = 0.71</text>
<text x="159.80" y="233.50" font-size="6.25" text-anchor="start" font-weight="normal" fill="#222" stroke="#222" stroke-width="0.07" >(0.59 - 0.83)</text>
<text x="159.80" y="241.10" font-size="6.25" text-anchor="start" font-weight="normal" fill="#222" stroke="#222" stroke-width="0.07" >p &lt; 0.001</text>
<rect x="118.0" y="164.6" width="81.8" height="82.1" fill="none" stroke="#555" stroke-width="0.8"/>
<line x1="206.00" y1="246.70" x2="208.60" y2="246.70" stroke="#555" stroke-width="0.8" />
<line x1="208.60" y1="246.70" x2="208.60" y2="248.30" stroke="#555" stroke-width="0.8" />
<line x1="206.00" y1="230.28" x2="208.60" y2="230.28" stroke="#555" stroke-width="0.8" />
<line x1="224.96" y1="246.70" x2="224.96" y2="248.30" stroke="#555" stroke-width="0.8" />
<line x1="206.00" y1="213.86" x2="208.60" y2="213.86" stroke="#555" stroke-width="0.8" />
<line x1="241.32" y1="246.70" x2="241.32" y2="248.30" stroke="#555" stroke-width="0.8" />
<line x1="206.00" y1="197.44" x2="208.60" y2="197.44" stroke="#555" stroke-width="0.8" />
<line x1="257.68" y1="246.70" x2="257.68" y2="248.30" stroke="#555" stroke-width="0.8" />
<line x1="206.00" y1="181.02" x2="208.60" y2="181.02" stroke="#555" stroke-width="0.8" />
<line x1="274.04" y1="246.70" x2="274.04" y2="248.30" stroke="#555" stroke-width="0.8" />
<line x1="206.00" y1="164.60" x2="208.60" y2="164.60" stroke="#555" stroke-width="0.8" />
<line x1="290.40" y1="246.70" x2="290.40" y2="248.30" stroke="#555" stroke-width="0.8" />
<line x1="205.10" y1="246.70" x2="208.60" y2="246.70" stroke="#555" stroke-width="0.8" />
<text x="208.60" y="255.20" font-size="6.6" text-anchor="middle" font-weight="normal" fill="#222" stroke="#222" stroke-width="0.07" >0</text>
<text x="224.96" y="255.20" font-size="6.6" text-anchor="middle" font-weight="normal" fill="#222" stroke="#222" stroke-width="0.07" >0.2</text>
<text x="241.32" y="255.20" font-size="6.6" text-anchor="middle" font-weight="normal" fill="#222" stroke="#222" stroke-width="0.07" >0.4</text>
<text x="257.68" y="255.20" font-size="6.6" text-anchor="middle" font-weight="normal" fill="#222" stroke="#222" stroke-width="0.07" >0.6</text>
<text x="274.04" y="255.20" font-size="6.6" text-anchor="middle" font-weight="normal" fill="#222" stroke="#222" stroke-width="0.07" >0.8</text>
<text x="286.20" y="255.20" font-size="6.6" text-anchor="middle" font-weight="normal" fill="#222" stroke="#222" stroke-width="0.07" >1.0</text>
<text x="251.40" y="264.80" font-size="7.4" text-anchor="middle" font-weight="normal" fill="#222" stroke="#222" stroke-width="0.07" >1 - Specificity</text>
<line x1="208.60" y1="246.70" x2="290.40" y2="164.60" stroke="#cf5769" stroke-width="0.8" />
<polyline points="208.60,246.70 208.60,226.50 211.60,223.90 215.60,223.90 215.60,210.00 219.60,210.00 219.60,205.30 221.60,204.00 222.90,194.50 226.90,193.60 226.90,189.90 230.20,189.90 230.20,185.90 237.50,185.90 237.50,177.60 253.00,175.90 253.00,173.90 260.90,173.90 260.90,168.60 264.20,167.30 264.20,166.00 287.40,166.00 290.40,164.60" fill="none" stroke="#8ac2b5" stroke-width="0.85" stroke-linejoin="miter"/>
<text x="212.70" y="173.90" font-size="8.3" text-anchor="start" font-weight="bold" fill="#222" stroke="#222" stroke-width="0.07" >C3</text>
<text x="250.80" y="225.90" font-size="6.25" text-anchor="start" font-weight="normal" fill="#222" stroke="#222" stroke-width="0.07" >AUC = 0.78</text>
<text x="250.80" y="233.50" font-size="6.25" text-anchor="start" font-weight="normal" fill="#222" stroke="#222" stroke-width="0.07" >(0.67 - 0.89)</text>
<text x="250.80" y="241.10" font-size="6.25" text-anchor="start" font-weight="normal" fill="#222" stroke="#222" stroke-width="0.07" >p &lt; 0.0001</text>
<rect x="208.6" y="164.6" width="81.8" height="82.1" fill="none" stroke="#555" stroke-width="0.8"/>
<line x1="296.90" y1="246.70" x2="299.50" y2="246.70" stroke="#555" stroke-width="0.8" />
<line x1="299.50" y1="246.70" x2="299.50" y2="248.30" stroke="#555" stroke-width="0.8" />
<line x1="296.90" y1="230.28" x2="299.50" y2="230.28" stroke="#555" stroke-width="0.8" />
<line x1="315.86" y1="246.70" x2="315.86" y2="248.30" stroke="#555" stroke-width="0.8" />
<line x1="296.90" y1="213.86" x2="299.50" y2="213.86" stroke="#555" stroke-width="0.8" />
<line x1="332.22" y1="246.70" x2="332.22" y2="248.30" stroke="#555" stroke-width="0.8" />
<line x1="296.90" y1="197.44" x2="299.50" y2="197.44" stroke="#555" stroke-width="0.8" />
<line x1="348.58" y1="246.70" x2="348.58" y2="248.30" stroke="#555" stroke-width="0.8" />
<line x1="296.90" y1="181.02" x2="299.50" y2="181.02" stroke="#555" stroke-width="0.8" />
<line x1="364.94" y1="246.70" x2="364.94" y2="248.30" stroke="#555" stroke-width="0.8" />
<line x1="296.90" y1="164.60" x2="299.50" y2="164.60" stroke="#555" stroke-width="0.8" />
<line x1="381.30" y1="246.70" x2="381.30" y2="248.30" stroke="#555" stroke-width="0.8" />
<line x1="296.00" y1="246.70" x2="299.50" y2="246.70" stroke="#555" stroke-width="0.8" />
<text x="299.50" y="255.20" font-size="6.6" text-anchor="middle" font-weight="normal" fill="#222" stroke="#222" stroke-width="0.07" >0</text>
<text x="315.86" y="255.20" font-size="6.6" text-anchor="middle" font-weight="normal" fill="#222" stroke="#222" stroke-width="0.07" >0.2</text>
<text x="332.22" y="255.20" font-size="6.6" text-anchor="middle" font-weight="normal" fill="#222" stroke="#222" stroke-width="0.07" >0.4</text>
<text x="348.58" y="255.20" font-size="6.6" text-anchor="middle" font-weight="normal" fill="#222" stroke="#222" stroke-width="0.07" >0.6</text>
<text x="364.94" y="255.20" font-size="6.6" text-anchor="middle" font-weight="normal" fill="#222" stroke="#222" stroke-width="0.07" >0.8</text>
<text x="377.10" y="255.20" font-size="6.6" text-anchor="middle" font-weight="normal" fill="#222" stroke="#222" stroke-width="0.07" >1.0</text>
<text x="342.00" y="264.80" font-size="7.4" text-anchor="middle" font-weight="normal" fill="#222" stroke="#222" stroke-width="0.07" >1 - Specificity</text>
<line x1="299.50" y1="246.70" x2="381.30" y2="164.60" stroke="#cf5769" stroke-width="0.8" />
<polyline points="299.50,246.70 302.60,243.80 302.60,227.20 307.30,227.20 307.30,221.20 311.30,221.20 311.30,216.60 314.60,216.60 314.60,197.80 317.90,197.80 317.90,191.80 321.90,191.80 321.90,178.60 326.50,177.60 330.70,174.60 344.60,174.60 344.60,173.70 359.90,173.70 359.90,171.30 363.90,171.30 363.90,168.00 368.50,166.60 375.80,166.00 381.30,164.60" fill="none" stroke="#8ac2b5" stroke-width="0.85" stroke-linejoin="miter"/>
<text x="303.30" y="173.90" font-size="8.3" text-anchor="start" font-weight="bold" fill="#222" stroke="#222" stroke-width="0.07" >C4d/C4</text>
<text x="343.50" y="225.90" font-size="6.25" text-anchor="start" font-weight="normal" fill="#222" stroke="#222" stroke-width="0.07" >AUC = 0.76</text>
<text x="343.50" y="233.50" font-size="6.25" text-anchor="start" font-weight="normal" fill="#222" stroke="#222" stroke-width="0.07" >(0.64 - 0.89)</text>
<text x="343.50" y="241.10" font-size="6.25" text-anchor="start" font-weight="normal" fill="#222" stroke="#222" stroke-width="0.07" >p &lt; 0.0001</text>
<rect x="299.5" y="164.6" width="81.8" height="82.1" fill="none" stroke="#555" stroke-width="0.8"/>
<line x1="8.20" y1="292.40" x2="263.50" y2="292.40" stroke="#aaa" stroke-width="0.8" />
<line x1="8.20" y1="304.50" x2="263.50" y2="304.50" stroke="#aaa" stroke-width="0.8" />
<line x1="8.20" y1="316.30" x2="263.50" y2="316.30" stroke="#aaa" stroke-width="0.8" />
<line x1="8.20" y1="328.40" x2="263.50" y2="328.40" stroke="#aaa" stroke-width="0.8" />
<line x1="8.20" y1="341.00" x2="263.50" y2="341.00" stroke="#aaa" stroke-width="0.8" />
<line x1="59.60" y1="282.00" x2="59.60" y2="350.50" stroke="#b4b4b4" stroke-width="0.8" />
<line x1="111.20" y1="282.00" x2="111.20" y2="350.50" stroke="#b4b4b4" stroke-width="0.8" />
<line x1="161.30" y1="282.00" x2="161.30" y2="350.50" stroke="#b4b4b4" stroke-width="0.8" />
<line x1="212.20" y1="282.00" x2="212.20" y2="350.50" stroke="#b4b4b4" stroke-width="0.8" />
<text x="85.10" y="289.90" font-size="7.7" text-anchor="middle" font-weight="bold" fill="#222" stroke="#222" stroke-width="0.07" >C4d</text>
<text x="135.95" y="289.90" font-size="7.7" text-anchor="middle" font-weight="bold" fill="#222" stroke="#222" stroke-width="0.07" >C4</text>
<text x="186.45" y="289.90" font-size="7.7" text-anchor="middle" font-weight="bold" fill="#222" stroke="#222" stroke-width="0.07" >C3</text>
<text x="237.55" y="289.90" font-size="7.7" text-anchor="middle" font-weight="bold" fill="#222" stroke="#222" stroke-width="0.07" >C4d/C4</text>
<text x="12.80" y="301.60" font-size="6.8" text-anchor="start" font-weight="normal" fill="#222" stroke="#222" stroke-width="0.07" >Sensitivity [%]</text>
<text x="85.40" y="301.60" font-size="6.8" text-anchor="middle" font-weight="normal" fill="#222" stroke="#222" stroke-width="0.07" >79 (68 - 88)</text>
<text x="136.25" y="301.60" font-size="6.8" text-anchor="middle" font-weight="normal" fill="#222" stroke="#222" stroke-width="0.07" >70 (58 - 81)</text>
<text x="186.75" y="301.60" font-size="6.8" text-anchor="middle" font-weight="normal" fill="#222" stroke="#222" stroke-width="0.07" >74 (62 - 85)</text>
<text x="237.85" y="301.60" font-size="6.8" text-anchor="middle" font-weight="normal" fill="#222" stroke="#222" stroke-width="0.07" >83 (72 - 91)</text>
<text x="12.80" y="313.20" font-size="6.8" text-anchor="start" font-weight="normal" fill="#222" stroke="#222" stroke-width="0.07" >Specificity [%]</text>
<text x="85.40" y="313.20" font-size="6.8" text-anchor="middle" font-weight="normal" fill="#222" stroke="#222" stroke-width="0.07" >68 (45 - 86)</text>
<text x="136.25" y="313.20" font-size="6.8" text-anchor="middle" font-weight="normal" fill="#222" stroke="#222" stroke-width="0.07" >68 (45 - 86)</text>
<text x="186.75" y="313.20" font-size="6.8" text-anchor="middle" font-weight="normal" fill="#222" stroke="#222" stroke-width="0.07" >64 (41 - 83)</text>
<text x="237.85" y="313.20" font-size="6.8" text-anchor="middle" font-weight="normal" fill="#222" stroke="#222" stroke-width="0.07" >73 (50 - 89)</text>
<text x="12.80" y="325.00" font-size="6.8" text-anchor="start" font-weight="normal" fill="#222" stroke="#222" stroke-width="0.07" >PPV [%]</text>
<text x="85.40" y="325.00" font-size="6.8" text-anchor="middle" font-weight="normal" fill="#222" stroke="#222" stroke-width="0.07" >71 (57 - 82)</text>
<text x="136.25" y="325.00" font-size="6.8" text-anchor="middle" font-weight="normal" fill="#222" stroke="#222" stroke-width="0.07" >69 (54 - 81)</text>
<text x="186.75" y="325.00" font-size="6.8" text-anchor="middle" font-weight="normal" fill="#222" stroke="#222" stroke-width="0.07" >67 (54 - 78)</text>
<text x="237.85" y="325.00" font-size="6.8" text-anchor="middle" font-weight="normal" fill="#222" stroke="#222" stroke-width="0.07" >75 (60 - 86)</text>
<text x="12.80" y="336.80" font-size="6.8" text-anchor="start" font-weight="normal" fill="#222" stroke="#222" stroke-width="0.07" >NPV [%]</text>
<text x="85.40" y="336.80" font-size="6.8" text-anchor="middle" font-weight="normal" fill="#222" stroke="#222" stroke-width="0.07" >76 (65 - 85)</text>
<text x="136.25" y="336.80" font-size="6.8" text-anchor="middle" font-weight="normal" fill="#222" stroke="#222" stroke-width="0.07" >70 (59 - 78)</text>
<text x="186.75" y="336.80" font-size="6.8" text-anchor="middle" font-weight="normal" fill="#222" stroke="#222" stroke-width="0.07" >71 (59 - 81)</text>
<text x="237.85" y="336.80" font-size="6.8" text-anchor="middle" font-weight="normal" fill="#222" stroke="#222" stroke-width="0.07" >81 (71- 88)</text>
<text x="12.80" y="348.60" font-size="6.8" text-anchor="start" font-weight="normal" fill="#222" stroke="#222" stroke-width="0.07" >Accuracy</text>
<text x="85.40" y="348.60" font-size="6.8" text-anchor="middle" font-weight="normal" fill="#222" stroke="#222" stroke-width="0.07" >74 (63 - 82)</text>
<text x="136.25" y="348.60" font-size="6.8" text-anchor="middle" font-weight="normal" fill="#222" stroke="#222" stroke-width="0.07" >69 (59 - 78)</text>
<text x="186.75" y="348.60" font-size="6.8" text-anchor="middle" font-weight="normal" fill="#222" stroke="#222" stroke-width="0.07" >69 (58 - 79)</text>
<text x="237.85" y="348.60" font-size="6.8" text-anchor="middle" font-weight="normal" fill="#222" stroke="#222" stroke-width="0.07" >78 (68 - 86)</text>
<line x1="316.20" y1="286.60" x2="316.20" y2="341.40" stroke="#555" stroke-width="0.8" />
<line x1="316.20" y1="341.40" x2="393.80" y2="341.40" stroke="#555" stroke-width="0.8" />
<line x1="316.20" y1="341.40" x2="316.20" y2="343.40" stroke="#555" stroke-width="0.8" />
<text x="316.20" y="350.80" font-size="6.6" text-anchor="middle" font-weight="normal" fill="#222" stroke="#222" stroke-width="0.07" >0</text>
<line x1="335.60" y1="341.40" x2="335.60" y2="343.40" stroke="#555" stroke-width="0.8" />
<text x="335.60" y="350.80" font-size="6.6" text-anchor="middle" font-weight="normal" fill="#222" stroke="#222" stroke-width="0.07" >10</text>
<line x1="355.00" y1="341.40" x2="355.00" y2="343.40" stroke="#555" stroke-width="0.8" />
<text x="355.00" y="350.80" font-size="6.6" text-anchor="middle" font-weight="normal" fill="#222" stroke="#222" stroke-width="0.07" >20</text>
<line x1="374.40" y1="341.40" x2="374.40" y2="343.40" stroke="#555" stroke-width="0.8" />
<text x="374.40" y="350.80" font-size="6.6" text-anchor="middle" font-weight="normal" fill="#222" stroke="#222" stroke-width="0.07" >30</text>
<line x1="393.80" y1="341.40" x2="393.80" y2="343.40" stroke="#555" stroke-width="0.8" />
<text x="393.80" y="350.80" font-size="6.6" text-anchor="middle" font-weight="normal" fill="#222" stroke="#222" stroke-width="0.07" >40</text>
<text x="357.60" y="359.60" font-size="7.2" text-anchor="middle" font-weight="normal" fill="#222" stroke="#222" stroke-width="0.07" >Odds ratio (95% CI)</text>
<line x1="313.00" y1="292.90" x2="316.20" y2="292.90" stroke="#555" stroke-width="0.8" />
<text x="312.20" y="295.30" font-size="6.6" text-anchor="end" font-weight="normal" fill="#222" stroke="#222" stroke-width="0.07" >High C4d/C4</text>
<line x1="324.35" y1="292.90" x2="393.80" y2="292.90" stroke="#333" stroke-width="0.8" />
<line x1="324.35" y1="290.60" x2="324.35" y2="295.20" stroke="#333" stroke-width="0.8" />
<line x1="393.80" y1="290.60" x2="393.80" y2="295.20" stroke="#333" stroke-width="0.8" />
<circle cx="341.42" cy="292.9" r="3.1" fill="#000"/>
<text x="365.90" y="290.40" font-size="5.55" text-anchor="start" font-weight="normal" fill="#222" stroke="#222" stroke-width="0.07" >p &lt; 0.0001</text>
<line x1="313.00" y1="306.10" x2="316.20" y2="306.10" stroke="#555" stroke-width="0.8" />
<text x="312.20" y="308.50" font-size="6.6" text-anchor="end" font-weight="normal" fill="#222" stroke="#222" stroke-width="0.07" >High C4d</text>
<line x1="320.86" y1="306.10" x2="360.63" y2="306.10" stroke="#333" stroke-width="0.8" />
<line x1="320.86" y1="303.80" x2="320.86" y2="308.40" stroke="#333" stroke-width="0.8" />
<line x1="360.63" y1="303.80" x2="360.63" y2="308.40" stroke="#333" stroke-width="0.8" />
<circle cx="331.53" cy="306.1" r="3.1" fill="#000"/>
<text x="365.90" y="307.80" font-size="5.55" text-anchor="start" font-weight="normal" fill="#222" stroke="#222" stroke-width="0.07" >p = 0.0001</text>
<line x1="313.00" y1="319.60" x2="316.20" y2="319.60" stroke="#555" stroke-width="0.8" />
<text x="312.20" y="322.00" font-size="6.6" text-anchor="end" font-weight="normal" fill="#222" stroke="#222" stroke-width="0.07" >Low C3</text>
<line x1="319.50" y1="319.60" x2="343.55" y2="319.60" stroke="#333" stroke-width="0.8" />
<line x1="319.50" y1="317.30" x2="319.50" y2="321.90" stroke="#333" stroke-width="0.8" />
<line x1="343.55" y1="317.30" x2="343.55" y2="321.90" stroke="#333" stroke-width="0.8" />
<circle cx="325.90" cy="319.6" r="3.1" fill="#000"/>
<text x="365.90" y="321.00" font-size="5.55" text-anchor="start" font-weight="normal" fill="#222" stroke="#222" stroke-width="0.07" >p = 0.002</text>
<line x1="313.00" y1="333.00" x2="316.20" y2="333.00" stroke="#555" stroke-width="0.8" />
<text x="312.20" y="335.40" font-size="6.6" text-anchor="end" font-weight="normal" fill="#222" stroke="#222" stroke-width="0.07" >Low C4</text>
<line x1="319.50" y1="333.00" x2="343.55" y2="333.00" stroke="#333" stroke-width="0.8" />
<line x1="319.50" y1="330.70" x2="319.50" y2="335.30" stroke="#333" stroke-width="0.8" />
<line x1="343.55" y1="330.70" x2="343.55" y2="335.30" stroke="#333" stroke-width="0.8" />
<circle cx="325.90" cy="333.0" r="3.1" fill="#000"/>
<text x="365.90" y="334.20" font-size="5.55" text-anchor="start" font-weight="normal" fill="#222" stroke="#222" stroke-width="0.07" >p = 0.002</text>
</svg></body></html>
